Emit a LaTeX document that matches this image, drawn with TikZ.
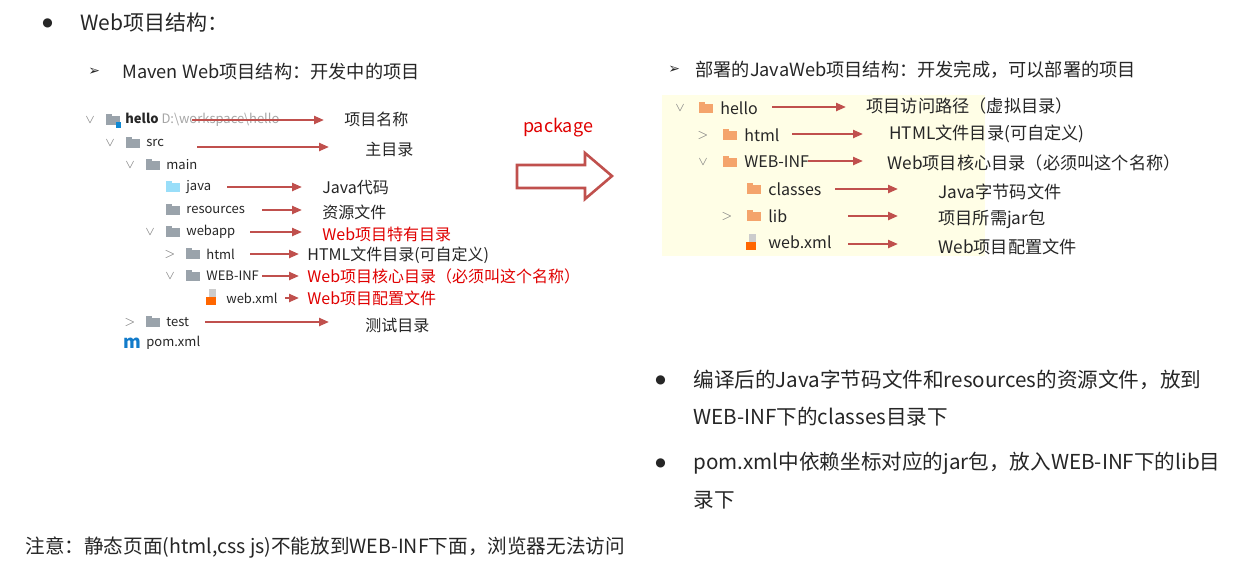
\documentclass[tikz,border=0pt]{standalone}
\usepackage{fontspec}
\setmainfont{Noto Sans CJK SC}
\newfontfamily\dv{DejaVu Sans}
\usetikzlibrary{arrows.meta}
\definecolor{arr}{HTML}{C0504D}
\definecolor{fold}{HTML}{9AA3AB}
\definecolor{ofold}{HTML}{F4A46C}
\definecolor{redt}{HTML}{E00000}
\definecolor{txt}{HTML}{262626}
\tikzset{x=0.5pt,y=-0.5pt,
 lbl/.style={anchor=west,inner sep=0,font=\fontsize{9.1}{11}\selectfont,text=txt},
 tl/.style={anchor=west,inner sep=0,font=\fontsize{6.5}{8}\selectfont,text=txt},
 ll/.style={anchor=west,inner sep=0,font=\fontsize{8}{9}\selectfont,text=txt},
 rl/.style={ll,text=redt},
 ql/.style={anchor=west,inner sep=0,font=\fontsize{8.6}{10}\selectfont,text=txt},
 bt/.style={anchor=west,inner sep=0,font=\fontsize{10.3}{12}\selectfont,text=txt},
 rt/.style={anchor=west,inner sep=0,font=\fontsize{8}{10}\selectfont,text=txt},
 ar/.style={draw=arr,line width=1.1pt,-{Triangle[length=5pt,width=4pt]}},
 chev/.style={anchor=center,inner sep=0,font=\fontsize{6}{7}\selectfont,text=gray}}
\newcommand{\fld}[3]{\fill[#3] (#1-7,#2-4) rectangle (#1+7,#2+5); \fill[#3] (#1-7,#2-6) rectangle (#1-1,#2-3);}
\begin{document}
\begin{tikzpicture}
\useasboundingbox[fill=white] (0,0) rectangle (1237,570);
% headings
\node[lbl] (b0) at (42,23) {\dv\fontsize{6}{7}\selectfont ●};
\node[lbl,font=\fontsize{10.5}{12}\selectfont] (h0) at (80,23) {Web项目结构：};
\node[lbl] (s1) at (88,72) {\dv\fontsize{7}{8}\selectfont ➢};
\node[lbl] (h1) at (122,72) {Maven Web项目结构：开发中的项目};
\node[lbl] (s2) at (668,70) {\dv\fontsize{7}{8}\selectfont ➢};
\node[lbl] (h2) at (695,70) {部署的JavaWeb项目结构：开发完成，可以部署的项目};
% left tree
\node[chev] (c1) at (90,120) {$\vee$};
\node[chev] (c2) at (110,143) {$\vee$};
\node[chev] (c3) at (130,165) {$\vee$};
\node[chev] (c4) at (150,232) {$\vee$};
\node[chev] (c5) at (170,254) {$>$};
\node[chev] (c6) at (170,276) {$\vee$};
\node[chev] (c7) at (130,322) {$>$};
\fld{113}{120}{fold} \fill[cyan!70!blue] (116,122) rectangle (121,128);
\fld{133}{143}{fold}
\fld{153}{165}{fold}
\fld{173}{187}{cyan!40}
\fld{173}{210}{fold}
\fld{173}{232}{fold}
\fld{193}{254}{fold}
\fld{193}{276}{fold}
\fill[orange!80!red] (206,297) rectangle (216,305); \fill[gray!40] (209,289) rectangle (216,297);
\fld{153}{322}{fold}
\node[tl,font=\bfseries\itshape\fontsize{9}{10}\selectfont,text=cyan!60!blue] (pm) at (123,343) {m};
\node[tl] (t1) at (125,120) {\textbf{hello} \textcolor{gray!70}{D:\textbackslash workspace\textbackslash hello}};
\node[tl] (t2) at (146,143) {src};
\node[tl] (t3) at (166,165) {main};
\node[tl] (t4) at (186,187) {java};
\node[tl] (t5) at (186,210) {resources};
\node[tl] (t6) at (186,232) {webapp};
\node[tl] (t7) at (206,254) {html};
\node[tl] (t8) at (206,276) {WEB-INF};
\node[tl] (t9) at (226,298) {web.xml};
\node[tl] (t10) at (166,322) {test};
\node[tl] (t11) at (146,343) {pom.xml};
\node[ll] (l1) at (344,119) {项目名称};
\node[ll] (l2) at (365,149) {主目录};
\node[ll] (l4) at (322,188) {Java代码};
\node[ll] (l5) at (322,212) {资源文件};
\node[rl] (l6) at (322,234) {Web项目特有目录};
\node[ll] (l7) at (307,255) {HTML文件目录(可自定义)};
\node[rl] (l8) at (307,276) {Web项目核心目录（必须叫这个名称）};
\node[rl] (l9) at (307,298) {Web项目配置文件};
\node[ll] (l10) at (365,325) {测试目录};
\coordinate (a1) at (192,120); \draw[ar] (a1) -- ([xshift=-10]l1.west|-a1);
\coordinate (a2) at (197,147); \draw[ar] (a2) -- ([xshift=-18]l2.west|-a2);
\coordinate (a4) at (227,187); \draw[ar] (a4) -- ([xshift=-10]l4.west|-a4);
\coordinate (a5) at (262,210); \draw[ar] (a5) -- ([xshift=-10]l5.west|-a5);
\coordinate (a6) at (250,232); \draw[ar] (a6) -- ([xshift=-10]l6.west|-a6);
\coordinate (a7) at (250,254); \draw[ar] (a7) -- ([xshift=-4]l7.west|-a7);
\coordinate (a8) at (262,276); \draw[ar] (a8) -- ([xshift=-4]l8.west|-a8);
\coordinate (a9) at (285,298); \draw[ar] (a9) -- ([xshift=-4]l9.west|-a9);
\coordinate (a10) at (205,322); \draw[ar] (a10) -- ([xshift=-18]l10.west|-a10);
% package arrow
\node[anchor=center,inner sep=0,font=\fontsize{9}{11}\selectfont,text=redt] (pk) at (558,128) {package};
\draw[draw=arr,line width=1.3pt,fill=white] (517,165) -- (585,165) -- (585,153) -- (612,176) -- (585,199) -- (585,188) -- (517,188) -- cycle;
% right tree
\fill[yellow!10] (662,95) rectangle (985,256);
\node[chev] (d1) at (680,108) {$\vee$};
\node[chev] (d2) at (703,135) {$>$};
\node[chev] (d3) at (703,162) {$\vee$};
\node[chev] (d4) at (727,216) {$>$};
\fld{706}{108}{ofold}
\fld{730}{135}{ofold}
\fld{730}{162}{ofold}
\fld{754}{189}{ofold}
\fld{754}{216}{ofold}
\fill[orange!80!red] (746,242) rectangle (756,250); \fill[gray!40] (749,234) rectangle (756,242);
\node[rt] (r1) at (720,108) {hello};
\node[rt] (r2) at (744,135) {html};
\node[rt] (r3) at (744,162) {WEB-INF};
\node[rt] (r4) at (768,189) {classes};
\node[rt] (r5) at (768,216) {lib};
\node[rt] (r6) at (768,242) {web.xml};
\node[ql] (q1) at (866,106) {项目访问路径（虚拟目录）};
\node[ql] (q2) at (889,134) {HTML文件目录(可自定义)};
\node[ql] (q3) at (887,163) {Web项目核心目录（必须叫这个名称）};
\node[ql] (q4) at (938,192) {Java字节码文件};
\node[ql] (q5) at (938,219) {项目所需jar包};
\node[ql] (q6) at (938,247) {Web项目配置文件};
\coordinate (e1) at (772,107); \draw[ar] (e1) -- ([xshift=-10]q1.west|-e1);
\coordinate (e2) at (792,134); \draw[ar] (e2) -- ([xshift=-13]q2.west|-e2);
\coordinate (e3) at (808,161); \draw[ar] (e3) -- ([xshift=-12]q3.west|-e3);
\coordinate (e4) at (835,189); \draw[ar] (e4) -- ([xshift=-20]q4.west|-e4);
\coordinate (e5) at (848,216); \draw[ar] (e5) -- ([xshift=-20]q5.west|-e5);
\coordinate (e6) at (848,244); \draw[ar] (e6) -- ([xshift=-20]q6.west|-e6);
% bullets
\node[lbl] (p1) at (655,380) {\dv\fontsize{6}{7}\selectfont ●};
\node[bt] (p1t) at (693,380) {编译后的Java字节码文件和resources的资源文件，放到};
\node[bt] (p1u) at (693,417) {WEB-INF下的classes目录下};
\node[lbl] (p2) at (655,463) {\dv\fontsize{6}{7}\selectfont ●};
\node[bt] (p2t) at (693,463) {pom.xml中依赖坐标对应的jar包，放入WEB-INF下的lib目};
\node[bt] (p2u) at (693,500) {录下};
\node[lbl,font=\fontsize{9.8}{11}\selectfont] (nt) at (25,548) {注意：静态页面(html,css js)不能放到WEB-INF下面，浏览器无法访问};
\end{tikzpicture}
\end{document}
